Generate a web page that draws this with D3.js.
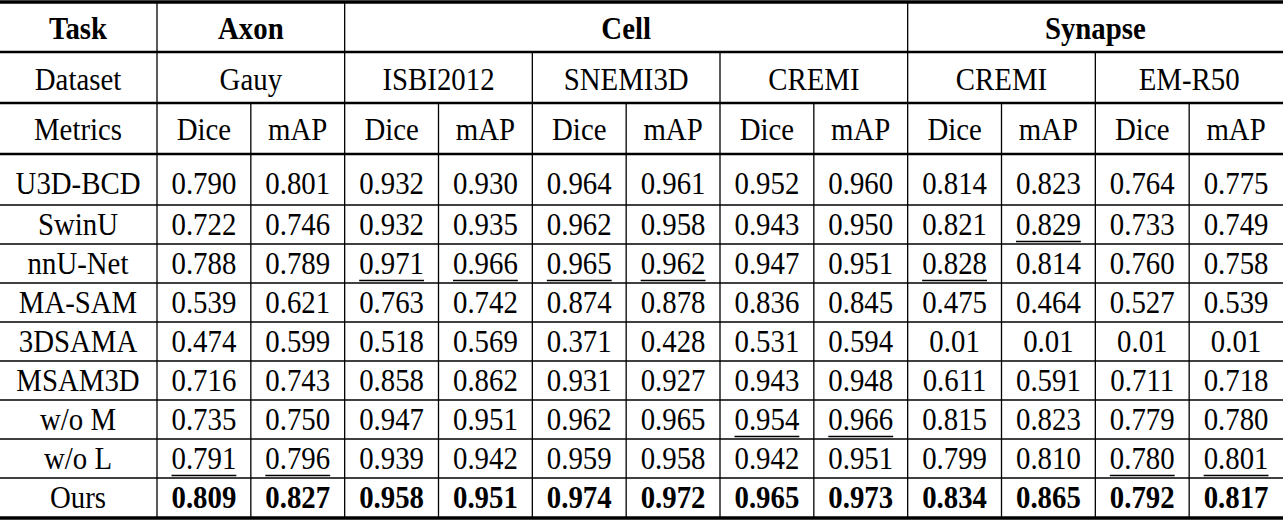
<!DOCTYPE html>
<html><head><meta charset="utf-8">
<script src="https://cdn.jsdelivr.net/npm/d3@7"></script>
<style>body{margin:0;background:#fff}text{font-family:"Liberation Serif","DejaVu Serif",serif;fill:#000}</style>
</head><body>
<script>
const tasks = [["Axon", 0, 2], ["Cell", 2, 8], ["Synapse", 8, 12]];
const datasets = ["Gauy", "ISBI2012", "SNEMI3D", "CREMI", "CREMI", "EM-R50"];
const metrics = ["Dice", "mAP"];
const methods = ["U3D-BCD", "SwinU", "nnU-Net", "MA-SAM", "3DSAMA", "MSAM3D", "w/o M", "w/o L", "Ours"];
const values = [
  ["0.790","0.801","0.932","0.930","0.964","0.961","0.952","0.960","0.814","0.823","0.764","0.775"],
  ["0.722","0.746","0.932","0.935","0.962","0.958","0.943","0.950","0.821","0.829","0.733","0.749"],
  ["0.788","0.789","0.971","0.966","0.965","0.962","0.947","0.951","0.828","0.814","0.760","0.758"],
  ["0.539","0.621","0.763","0.742","0.874","0.878","0.836","0.845","0.475","0.464","0.527","0.539"],
  ["0.474","0.599","0.518","0.569","0.371","0.428","0.531","0.594","0.01","0.01","0.01","0.01"],
  ["0.716","0.743","0.858","0.862","0.931","0.927","0.943","0.948","0.611","0.591","0.711","0.718"],
  ["0.735","0.750","0.947","0.951","0.962","0.965","0.954","0.966","0.815","0.823","0.779","0.780"],
  ["0.791","0.796","0.939","0.942","0.959","0.958","0.942","0.951","0.799","0.810","0.780","0.801"],
  ["0.809","0.827","0.958","0.951","0.974","0.972","0.965","0.973","0.834","0.865","0.792","0.817"]
];
// [row, col] of underlined (second best) cells
const underlined = [[1,9],[2,2],[2,3],[2,4],[2,5],[2,8],[6,6],[6,7],[7,0],[7,1],[7,10],[7,11]];

const W = 1283, H = 523, SX = 0.93;
const svg = d3.select("body").append("svg").attr("width", W).attr("height", H);

const x = d3.scaleLinear().domain([0, 12]).range([157, 1283]);
const headerY = [2, 52, 103, 154];
const y = d3.scaleLinear().domain([1, 9]).range([205, 517]);

const rowTop = k => k === 0 ? 154 : y(k);
const rowBot = k => y(k + 1);

function label(t, cx, cy, bold, ul) {
  const g = svg.append("g").attr("transform", `translate(${cx},${cy + 10}) scale(${SX},1)`);
  const el = g.append("text").attr("text-anchor", "middle").attr("font-size", 31)
    .attr("font-weight", bold ? "bold" : "normal").text(t);
  if (ul) {
    const w = el.node().getComputedTextLength();
    g.append("line").attr("x1", -w / 2).attr("x2", w / 2).attr("y1", 7).attr("y2", 7)
      .attr("stroke", "#000").attr("stroke-width", 1.3);
  }
}
function vline(xx, y1, y2, sw) {
  svg.append("line").attr("x1", xx).attr("x2", xx).attr("y1", y1).attr("y2", y2)
    .attr("stroke", "#000").attr("stroke-width", sw || 1.3);
}
function hline(yy, sw) {
  svg.append("line").attr("x1", 0).attr("x2", W).attr("y1", yy).attr("y2", yy)
    .attr("stroke", "#000").attr("stroke-width", sw);
}

label("Task", 78, 29, true);
tasks.forEach(([n, a, b]) => label(n, (x(a) + x(b)) / 2, 29, true));
[0, 2, 8].forEach(c => vline(x(c), headerY[0], headerY[1]));
label("Dataset", 78, 80);
datasets.forEach((d, i) => label(d, (x(2 * i) + x(2 * i + 2)) / 2, 80));
d3.range(6).forEach(i => vline(x(2 * i), headerY[1], headerY[2]));
label("Metrics", 78, 130);
d3.range(12).forEach(c => {
  label(metrics[c % 2], (x(c) + x(c + 1)) / 2, 130);
  vline(x(c), headerY[2], headerY[3]);
});

methods.forEach((m, k) => {
  const t = rowTop(k), b = rowBot(k), cy = (t + b) / 2 + (k === 0 ? 4 : 0);
  const bold = m === "Ours";
  label(m, 78, cy);
  values[k].forEach((v, c) => {
    const ul = underlined.some(([r, cc]) => r === k && cc === c);
    label(v, (x(c) + x(c + 1)) / 2, cy, bold, ul);
    vline(x(c), t, b);
  });
  if (k > 0) hline(t, 1.3);
});

hline(2, 3.5);
headerY.slice(1).forEach(v => hline(v, 2.5));
hline(518, 3.5);
</script>
</body></html>
